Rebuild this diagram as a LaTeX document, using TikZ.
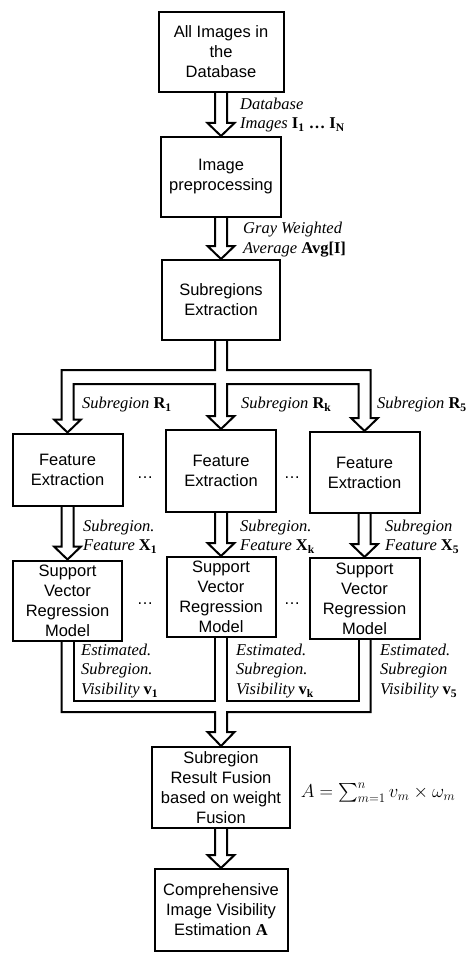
\documentclass[tikz,border=0pt]{standalone}
\usepackage{amsmath}
\usepackage{fontspec}
\setmainfont{Liberation Serif}
\setsansfont{Liberation Sans}
\usepackage{tikz}
\usetikzlibrary{calc}

\newcommand{\bsub}[2]{\textbf{\upshape #1\textsubscript{#2}}}

\tikzset{
  box/.style={draw, line width=2pt, align=center, inner sep=1pt, font=\sffamily\fontsize{16.5}{20}\selectfont},
  lbl/.style={anchor=west, align=left, inner sep=0pt, font=\fontsize{16.5}{19.5}\selectfont\itshape},
  blk/.style={line width=2pt, line join=miter},
  dotsep/.style={inner sep=0pt, font=\sffamily\fontsize{16.5}{20}\selectfont}
}

\begin{document}
\begin{tikzpicture}[x=1pt, y=1pt]
		\useasboundingbox (0,0) rectangle (474,-963);
		% main column
		\node[box, minimum width=125pt, minimum height=80pt] (db) at (221,-52) {All Images in\\the\\Database};
		\node[box, minimum width=120pt, minimum height=80pt] (prep) at (221,-177) {Image\\preprocessing};
		\node[box, minimum width=118pt, minimum height=80pt] (subx) at (221,-300) {Subregions\\Extraction};
		% three subregion columns
		\node[box, minimum width=110pt, minimum height=72pt] (fe1) at (67.5,-469.5) {Feature\\Extraction};
		\node[box, minimum width=110pt, minimum height=82pt] (fek) at (221,-471) {Feature\\Extraction};
		\node[box, minimum width=110pt, minimum height=81pt] (fe5) at (364.5,-472.5) {Feature\\Extraction};
		\node[box, minimum width=109pt, minimum height=80pt] (svr1) at (67.5,-600.5) {Support\\Vector\\Regression\\Model};
		\node[box, minimum width=109pt, minimum height=80pt] (svrk) at (221,-597) {Support\\Vector\\Regression\\Model};
		\node[box, minimum width=110pt, minimum height=81pt] (svr5) at (364.5,-598.5) {Support\\Vector\\Regression\\Model};
		\node[dotsep] (dfe1) at (145,-478) {…};
		\node[dotsep] (dfe2) at (292,-478) {…};
		\node[dotsep] (dsvr1) at (145,-604) {…};
		\node[dotsep] (dsvr2) at (292,-604) {…};
		% fusion
		\node[box, minimum width=138pt, minimum height=81pt] (fus) at (221,-787.5) {Subregion\\Result Fusion\\based on weight\\Fusion};
		\node[box, minimum width=133pt, minimum height=82pt] (est) at (221,-910) {Comprehensive\\Image Visibility\\Estimation \textbf{\rmfamily A}};
		\node[font=\fontsize{17.28}{20}\selectfont, scale=1.08, transform shape] (wsum) at (378,-793) {$A=\sum_{m=1}^{n} v_m\times\omega_m$};

		% straight block arrows
		\foreach \a/\b in {db/prep, prep/subx, fe1/svr1, fek/svrk, fe5/svr5, fus/est}
			\draw[blk] ($(\a.south)+(-6,0)$) -- ($(\b.north)+(-6,13)$) -- ++(-7.5,0) -- (\b.north) -- ++(13.5,13) -- ++(-7.5,0) -- ($(\a.south)+(6,0)$);

		% split into subregions
		\coordinate (hiO) at ($(subx.south)+(0,-29)$);
		\coordinate (hiI) at ($(subx.south)+(0,-43)$);
		\draw[blk] ($(subx.south)+(-6,0)$) -- ($(hiO)+(-6,0)$) -| ($(fe1.north)+(-6,13)$) -- ++(-7.5,0) -- (fe1.north) -- ++(13.5,13) -- ++(-7.5,0)
			|- ($(hiI)+(-6,0)$) -- ($(fek.north)+(-6,13)$) -- ++(-7.5,0) -- (fek.north) -- ++(13.5,13) -- ++(-7.5,0)
			-- ($(hiI)+(6,0)$) -| ($(fe5.north)+(-6,13)$) -- ++(-7.5,0) -- (fe5.north) -- ++(13.5,13) -- ++(-7.5,0)
			|- ($(hiO)+(6,0)$) -- ($(subx.south)+(6,0)$);

		% merge of the estimates
		\coordinate (loO) at ($(fus.north)+(0,34)$);
		\coordinate (loI) at ($(fus.north)+(0,45)$);
		\draw[blk] ($(svr1.south)+(-6,0)$) |- ($(loO)+(-6,0)$) -- ($(fus.north)+(-6,14)$) -- ++(-7.5,0) -- (fus.north) -- ++(13.5,14) -- ++(-7.5,0)
			-- ($(loO)+(6,0)$) -| ($(svr5.south)+(6,0)$);
		\draw[blk] ($(svr5.south)+(-6,0)$) |- ($(loI)+(6,0)$) -- ($(svrk.south)+(6,0)$);
		\draw[blk] ($(svrk.south)+(-6,0)$) |- ($(loI)+(-6,0)$) -| ($(svr1.south)+(6,0)$);

		% labels
		\node[lbl] (ldb) at (240,-115) {Database\\Images \textbf{\upshape I\textsubscript{1} … I\textsubscript{N}}};
		\node[lbl] (lavg) at (243,-239.5) {Gray Weighted\\Average \textbf{\upshape Avg[I]}};
		\node[lbl] (lr1) at (82,-405) {Subregion \bsub{R}{1}};
		\node[lbl] (lrk) at (241,-405) {Subregion \bsub{R}{k}};
		\node[lbl] (lr5) at (377,-405) {Subregion \bsub{R}{5}};
		\node[lbl] (lx1) at (83,-536.5) {Subregion.\\Feature \bsub{X}{1}};
		\node[lbl] (lxk) at (240,-536.5) {Subregion.\\Feature \bsub{X}{k}};
		\node[lbl] (lx5) at (385,-536.5) {Subregion\\Feature \bsub{X}{5}};
		\node[lbl] (lv1) at (81,-671) {Estimated.\\Subregion.\\Visibility \bsub{v}{1}};
		\node[lbl] (lvk) at (236,-671) {Estimated.\\Subregion.\\Visibility \bsub{v}{k}};
		\node[lbl] (lv5) at (380,-671) {Estimated.\\Subregion\\Visibility \bsub{v}{5}};
	\end{tikzpicture}
\end{document}
